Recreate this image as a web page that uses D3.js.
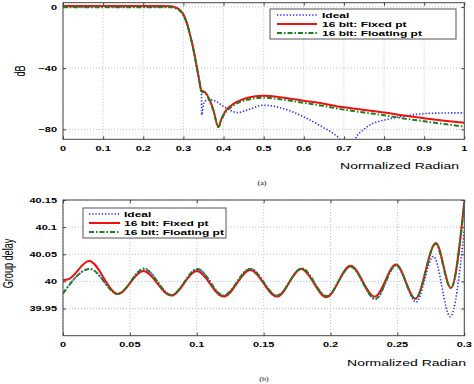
<!DOCTYPE html>
<html>
<head>
<meta charset="utf-8">
<script src="https://cdn.jsdelivr.net/npm/d3@7"></script>
<style>
  body { margin: 0; background: #fff; }
  svg { display: block; }
  text { font-family: "Liberation Sans", Arial, Helvetica, sans-serif; fill: #000; }
</style>
</head>
<body>
<svg width="474" height="384"></svg>
<script>
// ---- (a) magnitude response, dB vs normalized radian ----
var magX = [0, 0.05, 0.1, 0.15, 0.2, 0.25, 0.27, 0.28, 0.29, 0.3, 0.31, 0.317, 0.325, 0.333, 0.34, 0.344,
            0.35, 0.355, 0.365, 0.375, 0.387, 0.395, 0.405, 0.416, 0.435, 0.458, 0.5, 0.55, 0.6, 0.65,
            0.7, 0.75, 0.8, 0.85, 0.9, 0.95, 1];
var magFixed = [0.6, 0.6, 0.6, 0.6, 0.6, 0.6, 0.5, -0.3, -1.6, -4.8, -11.5, -18.5, -27.5, -38.5, -48.5, -54.3,
                -55.2, -56, -60.5, -67.5, -78.5, -73, -68, -65, -61.8, -59.5, -58, -59.3, -61.3, -63.2,
                -65.6, -67.3, -69, -71, -72.7, -74.3, -75.7];
var magFloat = [-0.1, -0.1, -0.1, -0.1, -0.1, -0.1, -0.2, -0.9, -2.2, -5.4, -12, -19, -28, -39, -49, -54.8,
                -55.8, -56.6, -61, -68, -78.5, -73.5, -68.8, -66, -62.8, -60.7, -59.3, -60.6, -62.7, -64.7,
                -67.1, -69, -70.8, -72.9, -74.7, -76.5, -78.2];

var idealX = [0, 0.1, 0.2, 0.25, 0.27, 0.28, 0.29, 0.3, 0.31, 0.317, 0.325, 0.333, 0.34, 0.345, 0.3455,
              0.352, 0.365, 0.38, 0.4, 0.436, 0.46, 0.5, 0.55, 0.6, 0.65, 0.675, 0.69, 0.7, 0.715,
              0.728, 0.75, 0.773, 0.8, 0.848, 0.907, 0.95, 1];
var idealDb = [0, 0, 0, 0, 0.1, -0.6, -1.9, -5.1, -11.8, -18.8, -27.8, -38.8, -48.8, -55, -70.5,
               -62, -60.5, -61.5, -65, -69, -67.3, -64.2, -66.5, -71.8, -79, -83, -87, -97, -97,
               -86.5, -80, -76, -74, -71.4, -69.6, -69.3, -69.2];

var magXTicks = [0, 0.1, 0.2, 0.3, 0.4, 0.5, 0.6, 0.7, 0.8, 0.9, 1];
var magYTicks = [-80, -40, 0];

// ---- (b) group delay vs normalized radian ----
var gdFixedX = [0, 0.004, 0.0195, 0.041, 0.06, 0.081, 0.1, 0.12, 0.14, 0.16, 0.178, 0.197, 0.215,
                0.233, 0.249, 0.2635, 0.2788, 0.29, 0.3];
var gdFixed = [40.002, 40.004, 40.0375, 39.977, 40.019, 39.974, 40.019, 39.972, 40.021, 39.972, 40.023,
               39.971, 40.029, 39.972, 40.031, 39.968, 40.071, 39.988, 40.147];

var gdFloatX = [0, 0.02, 0.041, 0.0605, 0.081, 0.1005, 0.12, 0.14, 0.16, 0.1785, 0.197, 0.215, 0.2335,
                0.249, 0.2635, 0.2785, 0.29, 0.3];
var gdFloat = [39.978, 40.023, 39.977, 40.023, 39.975, 40.023, 39.974, 40.023, 39.974, 40.024, 39.973,
               40.027, 39.968, 40.030, 39.968, 40.069, 39.988, 40.145];

var gdIdealX = [0, 0.02, 0.041, 0.0605, 0.081, 0.1005, 0.12, 0.14, 0.16, 0.1785, 0.197, 0.215, 0.2335,
                0.249, 0.264, 0.277, 0.2895, 0.3];
var gdIdeal = [39.978, 40.023, 39.977, 40.024, 39.975, 40.023, 39.974, 40.024, 39.974, 40.024, 39.973,
               40.027, 39.967, 40.029, 39.962, 40.046, 39.935, 40.095];

var gdXTicks = [0, 0.05, 0.1, 0.15, 0.2, 0.25, 0.3];
var gdYTicks = [39.95, 40, 40.05, 40.1, 40.15];

var legendLabels = ['Ideal', '16 bit: Fixed pt', '16 bit: Floating pt'];

// the source picture is squashed vertically, so text is too
var SY = 0.65;
var styles = [
  { stroke: '#2626ff', width: 1.6, dash: '1.3,1.9' },
  { stroke: '#f01010', width: 2, dash: null },
  { stroke: '#1d7f1d', width: 2, dash: '5,2,1.5,2' }
];

var svg = d3.select('svg');

function label(parent, x, y, s, anchor, size, weight, rot) {
  return parent.append('text')
    .attr('transform', 'translate(' + x + ',' + y + ')' + (rot ? ' rotate(-90) scale(' + SY + ',1)' : ' scale(1,' + SY + ')'))
    .attr('text-anchor', anchor)
    .attr('font-size', size)
    .attr('font-weight', weight)
    .text(s);
}

function fmt(d) {
  return String(+d.toFixed(2)).replace('-', '\u2212');
}

function panel(opt) {
  var x = d3.scaleLinear().domain(opt.xDomain).range([63, 464.3]);
  var y = d3.scaleLinear().domain(opt.yDomain).range(opt.yRange);
  var g = svg.append('g');
  var top = opt.yRange[1], bottom = opt.yRange[0];

  g.append('clipPath').attr('id', opt.id)
    .append('rect').attr('x', 63).attr('y', top).attr('width', 401.3).attr('height', bottom - top);

  // dotted grid
  g.selectAll('line.gx').data(opt.xTicks).enter().append('line')
    .attr('x1', function(d) { return x(d); }).attr('x2', function(d) { return x(d); })
    .attr('y1', top).attr('y2', bottom)
    .attr('stroke', '#b0b0b0').attr('stroke-width', 0.8).attr('stroke-dasharray', '1,2');
  g.selectAll('line.gy').data(opt.yTicks).enter().append('line')
    .attr('x1', 63).attr('x2', 464.3)
    .attr('y1', function(d) { return y(d); }).attr('y2', function(d) { return y(d); })
    .attr('stroke', '#b0b0b0').attr('stroke-width', 0.8).attr('stroke-dasharray', '1,2');

  // inward ticks on all four sides
  g.append('g').attr('transform', 'translate(0,' + bottom + ')')
    .call(d3.axisBottom(x).tickValues(opt.xTicks).tickSize(-3).tickFormat(''));
  g.append('g').attr('transform', 'translate(0,' + top + ')')
    .call(d3.axisTop(x).tickValues(opt.xTicks).tickSize(-3).tickFormat(''));
  g.append('g').attr('transform', 'translate(63,0)')
    .call(d3.axisLeft(y).tickValues(opt.yTicks).tickSize(-3).tickFormat(''));
  g.append('g').attr('transform', 'translate(464.3,0)')
    .call(d3.axisRight(y).tickValues(opt.yTicks).tickSize(-3).tickFormat(''));
  g.selectAll('.domain').remove();
  g.selectAll('.tick line').attr('stroke', '#444');

  var line = d3.line()
    .x(function(d) { return x(d[0]); })
    .y(function(d) { return y(d[1]); })
    .curve(d3.curveMonotoneX);

  var lines = g.append('g').attr('clip-path', 'url(#' + opt.id + ')');
  opt.series.forEach(function(s, i) {
    var pts = s.x.map(function(v, j) { return [v, s.y[j]]; });
    lines.append('path')
      .attr('d', line(pts))
      .attr('fill', 'none')
      .attr('stroke', styles[i].stroke)
      .attr('stroke-width', styles[i].width)
      .attr('stroke-dasharray', styles[i].dash);
  });

  g.append('rect')
    .attr('x', 63).attr('y', top).attr('width', 401.3).attr('height', bottom - top)
    .attr('fill', 'none').attr('stroke', '#444').attr('stroke-width', 1);

  opt.xTicks.forEach(function(d) {
    label(g, x(d), opt.xLabelY, fmt(d), 'middle', 11, 'bold');
  });
  opt.yTicks.forEach(function(d) {
    label(g, 57, y(d) + 2.6, fmt(d), 'end', 11, 'bold');
  });

  // legend
  var lg = g.append('g');
  var L = opt.legend;
  lg.append('rect')
    .attr('x', L.x).attr('y', L.y).attr('width', L.w).attr('height', L.h)
    .attr('fill', '#fff').attr('stroke', '#555').attr('stroke-width', 1);
  legendLabels.forEach(function(t, i) {
    var cy = L.y + 6 + i * 9;
    lg.append('line')
      .attr('x1', L.lx1).attr('x2', L.lx2).attr('y1', cy).attr('y2', cy)
      .attr('stroke', styles[i].stroke)
      .attr('stroke-width', styles[i].width)
      .attr('stroke-dasharray', styles[i].dash);
    label(lg, L.tx, cy + 2.8, t, 'start', 12, 'bold');
  });

  return g;
}

var ga = panel({
  id: 'clipA',
  xDomain: [0, 1], yDomain: [-86.5, 2.8], yRange: [139.3, 2.7],
  xTicks: magXTicks, yTicks: magYTicks, xLabelY: 150.5,
  series: [
    { x: idealX, y: idealDb },
    { x: magX, y: magFixed },
    { x: magX, y: magFloat }
  ],
  legend: { x: 270, y: 9, w: 186, h: 30, lx1: 277, lx2: 317, tx: 322 }
});
label(ga, 459, 168.5, 'Normalized Radian', 'end', 14, 'normal');
label(ga, 25, 71, 'dB', 'middle', 14, 'normal', true);
label(ga, 262, 185, '(a)', 'middle', 8, 'normal').style('font-family', '"Liberation Serif", serif');

var gb = panel({
  id: 'clipB',
  xDomain: [0, 0.3], yDomain: [39.9, 40.15], yRange: [335.7, 200],
  xTicks: gdXTicks, yTicks: gdYTicks, xLabelY: 347,
  series: [
    { x: gdIdealX, y: gdIdeal },
    { x: gdFixedX, y: gdFixed },
    { x: gdFloatX, y: gdFloat }
  ],
  legend: { x: 83, y: 208, w: 143, h: 30, lx1: 89, lx2: 120, tx: 124 }
});
label(gb, 466, 366, 'Normalized Radian', 'end', 14, 'normal');
label(gb, 13, 263.5, 'Group delay', 'middle', 14, 'normal', true);
label(gb, 264, 381, '(b)', 'middle', 8, 'normal').style('font-family', '"Liberation Serif", serif');
</script>
</body>
</html>
